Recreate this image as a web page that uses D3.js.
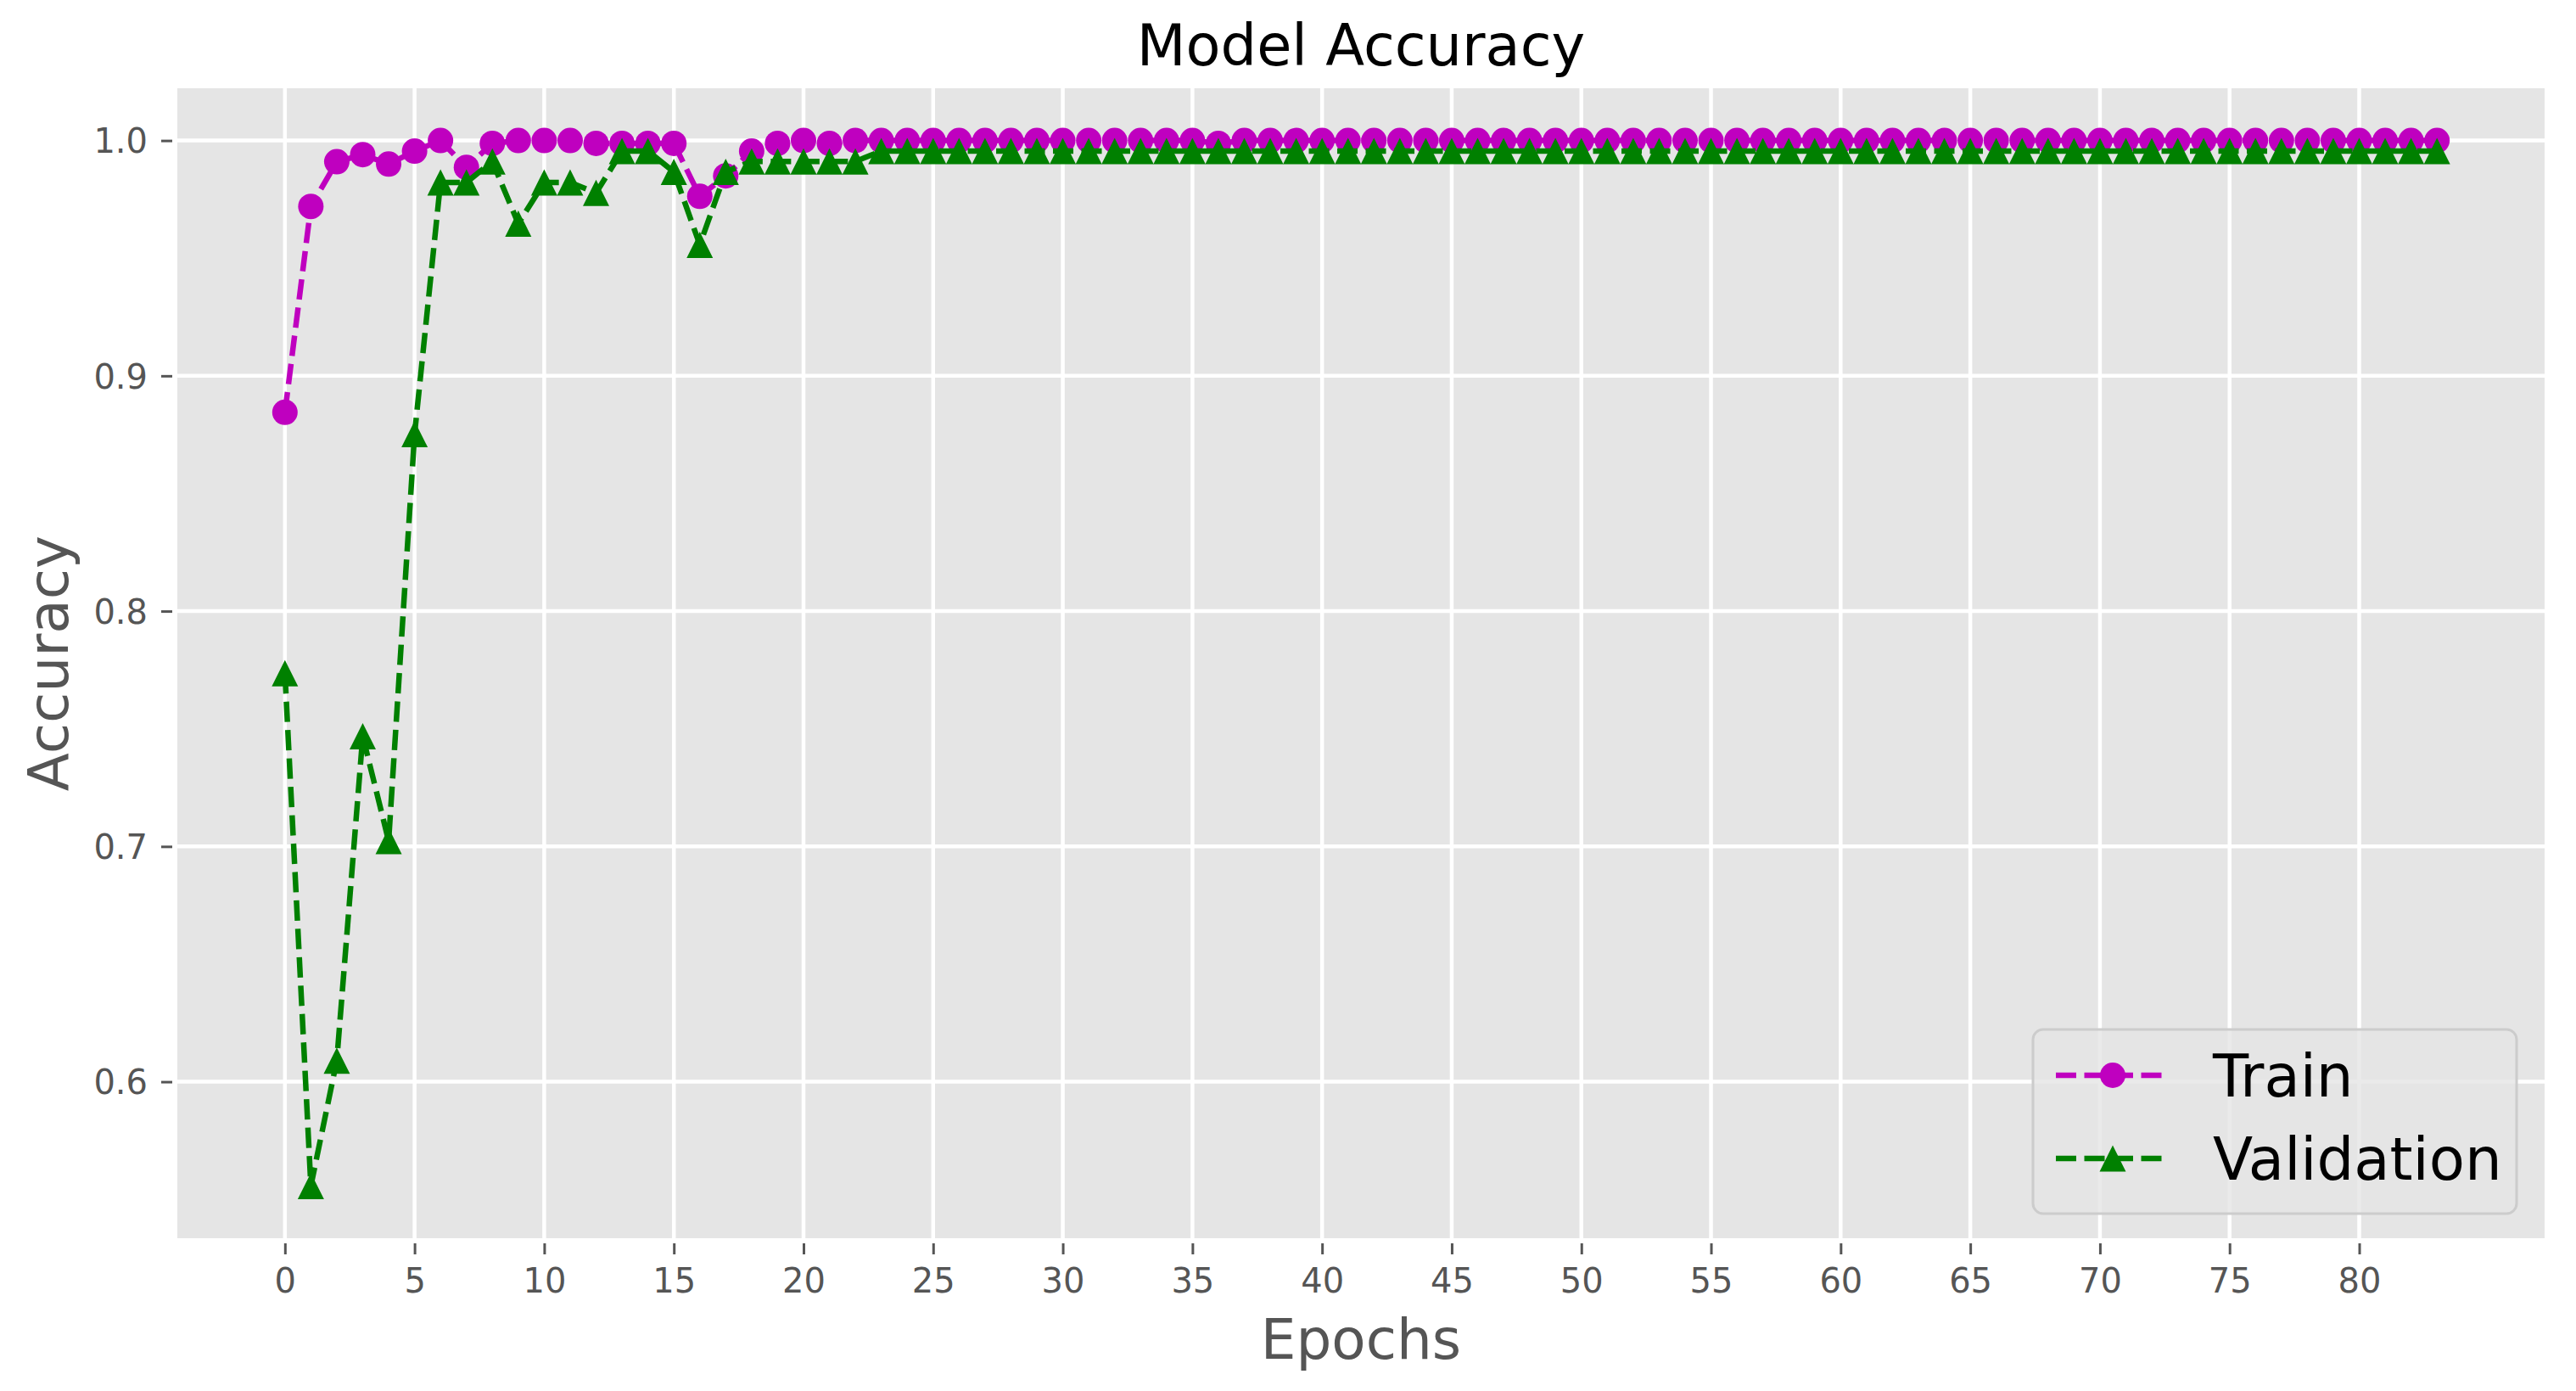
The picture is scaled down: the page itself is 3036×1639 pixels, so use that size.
<!DOCTYPE html>
<meta charset="utf-8">
<head>
<style>
  body { margin: 0; background: #fff; }
  text { font-family: "DejaVu Sans", sans-serif; }
</style>
</head>
<body>
<div id="chart"></div>
<script src="https://cdn.jsdelivr.net/npm/d3@7"></script>
<script>

var width = 3036,
    height = 1639;

var margin = {top: 104, right: 37, bottom: 180, left: 209};
var plotW = width - margin.left - margin.right,
    plotH = height - margin.top - margin.bottom;

var bg_color = '#e5e5e5',
    tick_color = '#555555',
    train_color = '#bf00bf',
    val_color = '#008000';

// accuracy per epoch
var trainAcc = [
  0.8845, 0.972, 0.991, 0.994, 0.990, 0.9955, 1.0, 0.9886, 0.9988, 1.0,
  1.0, 1.0, 0.9988, 0.9988, 0.9988, 0.9988, 0.9763, 0.985, 0.9955, 0.9988,
  1.0, 0.9988, 1.0, 1.0, 1.0, 1.0, 1.0, 1.0, 1.0, 1.0,
  1.0, 1.0, 1.0, 1.0, 1.0, 1.0, 0.9988, 1.0, 1.0, 1.0,
  1.0, 1.0, 1.0, 1.0, 1.0, 1.0, 1.0, 1.0, 1.0, 1.0,
  1.0, 1.0, 1.0, 1.0, 1.0, 1.0, 1.0, 1.0, 1.0, 1.0,
  1.0, 1.0, 1.0, 1.0, 1.0, 1.0, 1.0, 1.0, 1.0, 1.0,
  1.0, 1.0, 1.0, 1.0, 1.0, 1.0, 1.0, 1.0, 1.0, 1.0,
  1.0, 1.0, 1.0, 1.0
];

var valAcc = [
  0.7736, 0.5557, 0.609, 0.7468, 0.7023, 0.8752, 0.9822, 0.9822, 0.9911, 0.9647,
  0.9822, 0.9822, 0.9778, 0.9955, 0.9955, 0.9867, 0.9557, 0.9867, 0.9911, 0.9911,
  0.9911, 0.9911, 0.9911, 0.9955, 0.9955, 0.9955, 0.9955, 0.9955, 0.9955, 0.9955,
  0.9955, 0.9955, 0.9955, 0.9955, 0.9955, 0.9955, 0.9955, 0.9955, 0.9955, 0.9955,
  0.9955, 0.9955, 0.9955, 0.9955, 0.9955, 0.9955, 0.9955, 0.9955, 0.9955, 0.9955,
  0.9955, 0.9955, 0.9955, 0.9955, 0.9955, 0.9955, 0.9955, 0.9955, 0.9955, 0.9955,
  0.9955, 0.9955, 0.9955, 0.9955, 0.9955, 0.9955, 0.9955, 0.9955, 0.9955, 0.9955,
  0.9955, 0.9955, 0.9955, 0.9955, 0.9955, 0.9955, 0.9955, 0.9955, 0.9955, 0.9955,
  0.9955, 0.9955, 0.9955, 0.9955
];

var epochs = trainAcc.map(function(d, i) { return i; });

var xTicks = [0, 5, 10, 15, 20, 25, 30, 35, 40, 45, 50, 55, 60, 65, 70, 75, 80];
var yTicks = [0.6, 0.7, 0.8, 0.9, 1.0];

var seriesNames = ['Train', 'Validation'];

// matplotlib style 5% margins
var xExt = d3.extent(epochs),
    xPad = (xExt[1] - xExt[0]) * 0.05;
var yExt = d3.extent(trainAcc.concat(valAcc)),
    yPad = (yExt[1] - yExt[0]) * 0.05;

var x = d3.scaleLinear()
    .domain([xExt[0] - xPad, xExt[1] + xPad])
    .range([0, plotW]);

var y = d3.scaleLinear()
    .domain([yExt[0] - yPad, yExt[1] + yPad])
    .range([plotH, 0]);

var svg = d3.select('#chart').append('svg')
    .attr('width', width)
    .attr('height', height);

svg.append('rect')
    .attr('width', width)
    .attr('height', height)
    .attr('fill', '#ffffff');

var g = svg.append('g')
    .attr('transform', 'translate(' + margin.left + ',' + margin.top + ')');

g.append('rect')
    .attr('width', plotW)
    .attr('height', plotH)
    .attr('fill', bg_color);

// grid
g.selectAll('.vgrid').data(xTicks).enter().append('line')
    .attr('x1', x).attr('x2', x)
    .attr('y1', 0).attr('y2', plotH)
    .attr('stroke', '#ffffff')
    .attr('stroke-width', 4.5);

g.selectAll('.hgrid').data(yTicks).enter().append('line')
    .attr('y1', y).attr('y2', y)
    .attr('x1', 0).attr('x2', plotW)
    .attr('stroke', '#ffffff')
    .attr('stroke-width', 4.5);

// axes
var xAxis = g.append('g')
    .attr('transform', 'translate(0,' + plotH + ')')
    .call(d3.axisBottom(x).tickValues(xTicks).tickSizeInner(19).tickSizeOuter(0));

var yAxis = g.append('g')
    .call(d3.axisLeft(y).tickValues(yTicks).tickFormat(d3.format('.1f'))
      .tickSizeInner(19).tickSizeOuter(0));

[xAxis, yAxis].forEach(function(ax) {
  ax.select('.domain').remove();
  ax.selectAll('.tick line')
      .attr('stroke', tick_color)
      .attr('stroke-width', 3);
  ax.selectAll('.tick text')
      .attr('fill', tick_color)
      .attr('font-size', 40)
      .attr('font-family', 'DejaVu Sans');
});

xAxis.selectAll('.tick line').attr('y1', 6);
xAxis.selectAll('.tick text').attr('y', 64).attr('dy', null);
yAxis.selectAll('.tick line').attr('x1', -6);
yAxis.selectAll('.tick text').attr('x', -35).attr('dy', '0.36em');

// series
var line = d3.line()
    .x(function(d, i) { return x(epochs[i]); })
    .y(function(d) { return y(d); });

function triangle(cx, cy, s) {
  return 'M' + cx + ',' + (cy - s) + 'L' + (cx - s) + ',' + (cy + s) + 'L' + (cx + s) + ',' + (cy + s) + 'Z';
}

function drawSeries(values, color, marker) {
  g.append('path')
      .datum(values)
      .attr('d', line)
      .attr('fill', 'none')
      .attr('stroke', color)
      .attr('stroke-width', 6.5)
      .attr('stroke-dasharray', '24,9.5');
  if (marker == 'circle') {
    g.selectAll(null).data(values).enter().append('circle')
        .attr('cx', function(d, i) { return x(epochs[i]); })
        .attr('cy', function(d) { return y(d); })
        .attr('r', 15)
        .attr('fill', color);
  } else {
    g.selectAll(null).data(values).enter().append('path')
        .attr('d', function(d, i) { return triangle(x(epochs[i]), y(d), 15.5); })
        .attr('fill', color);
  }
}

drawSeries(trainAcc, train_color, 'circle');
drawSeries(valAcc, val_color, 'triangle');

// titles
svg.append('text')
    .attr('x', margin.left + plotW / 2)
    .attr('y', 77)
    .attr('text-anchor', 'middle')
    .attr('font-size', 67)
    .attr('fill', '#000000')
    .text('Model Accuracy');

svg.append('text')
    .attr('x', margin.left + plotW / 2)
    .attr('y', 1601)
    .attr('text-anchor', 'middle')
    .attr('font-size', 66)
    .attr('fill', tick_color)
    .text('Epochs');

svg.append('text')
    .attr('transform', 'translate(80,' + (margin.top + plotH / 2) + ') rotate(-90)')
    .attr('text-anchor', 'middle')
    .attr('font-size', 66)
    .attr('fill', tick_color)
    .text('Accuracy');

// legend
var legW = 570, legH = 217;
var legend = g.append('g')
    .attr('transform', 'translate(' + (plotW - 33 - legW) + ',' + (plotH - 29 - legH) + ')');

legend.append('rect')
    .attr('width', legW)
    .attr('height', legH)
    .attr('rx', 12)
    .attr('fill', 'rgba(229,229,229,0.8)')
    .attr('stroke', '#cccccc')
    .attr('stroke-width', 3);

var legColors = [train_color, val_color];
seriesNames.forEach(function(name, i) {
  var ly = 54 + i * 98;
  legend.append('line')
      .attr('x1', 27).attr('x2', 161)
      .attr('y1', ly).attr('y2', ly)
      .attr('stroke', legColors[i])
      .attr('stroke-width', 6.5)
      .attr('stroke-dasharray', '24,9.5');
  if (i == 0) {
    legend.append('circle')
        .attr('cx', 94).attr('cy', ly).attr('r', 15)
        .attr('fill', legColors[i]);
  } else {
    legend.append('path')
        .attr('d', triangle(94, ly, 15.5))
        .attr('fill', legColors[i]);
  }
  legend.append('text')
      .attr('x', 212)
      .attr('y', ly + 25)
      .attr('font-size', 69)
      .attr('fill', '#000000')
      .text(name);
});

</script>
